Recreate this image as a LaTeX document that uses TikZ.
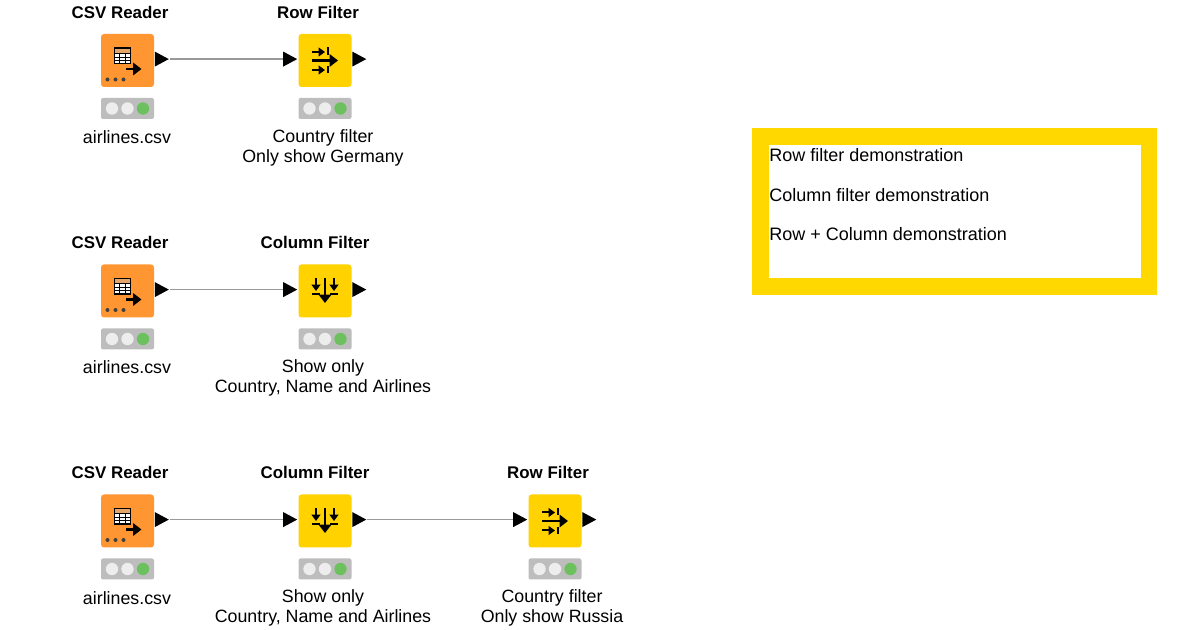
\documentclass[tikz,border=0pt]{standalone}
\usepackage{fontspec}
\setmainfont{Liberation Sans}
\usetikzlibrary{shapes.geometric, positioning, arrows.meta}
\definecolor{readerorange}{HTML}{FF9632}
\definecolor{filteryellow}{HTML}{FFD200}
\definecolor{noteyellow}{HTML}{FFD800}
\definecolor{lightgrey}{HTML}{BDBDBD}
\definecolor{lampwhite}{HTML}{EDEDED}
\definecolor{lampgreen}{HTML}{6CC05E}
\definecolor{wiregrey}{HTML}{999999}

% Macros: one box with its status lamps and output port
\newcommand{\knimenode}[4]{
  \node (#1) [#4] at (#2,#3) {};
  \node (#1status) [statusbar] at (#2,#3+48) {};
  \node [lamp, fill=lampwhite] at (#2-15.5,#3+48) {};
  \node [lamp, fill=lampwhite] at (#2,#3+48) {};
  \node [lamp, fill=lampgreen] at (#2+15.5,#3+48) {};
  \node (#1out) [port, right=0pt of #1] {};
}
\newcommand{\rowicon}[2]{
  \draw[icon] (#1-13,#2) -- (#1+13,#2);
  \draw[iconthin] (#1-13,#2-8.5) -- (#1,#2-8.5);
  \draw[iconthin] (#1-13,#2+9.5) -- (#1,#2+9.5);
  \draw[line width=1pt] (#1+3,#2-13) -- (#1+3,#2-5.5);
  \draw[line width=1pt] (#1+3,#2+6) -- (#1+3,#2+13);
}
\newcommand{\columnicon}[2]{
  \draw[icon] (#1,#2-13) -- (#1,#2+12);
  \draw[iconthin] (#1-9,#2-13) -- (#1-9,#2);
  \draw[iconthin] (#1+9,#2-13) -- (#1+9,#2);
  \draw[line width=1pt] (#1-13,#2+3) -- (#1-5,#2+3);
  \draw[line width=1pt] (#1+5,#2+3) -- (#1+13,#2+3);
}
\newcommand{\readericon}[2]{
  \draw[fill=white, line width=0.7pt] (#1-13,#2-12.5) rectangle (#1+3,#2+3);
  \fill[readerorange!60!lightgrey] (#1-12.3,#2-11.8) rectangle (#1+2.3,#2-7);
  \draw[line width=0.5pt] (#1-13,#2-7) -- (#1+3,#2-7);
  \draw[line width=0.5pt] (#1-13,#2-3.3) -- (#1+3,#2-3.3);
  \draw[line width=0.5pt] (#1-13,#2-0.1) -- (#1+3,#2-0.1);
  \draw[line width=0.5pt] (#1-7.7,#2-7) -- (#1-7.7,#2+3);
  \draw[line width=0.5pt] (#1-2.3,#2-7) -- (#1-2.3,#2+3);
  \draw[icon] (#1-1.5,#2+8.5) -- (#1+14,#2+8.5);
  \foreach \i in {-20,-12,-4} \fill[black!75] (#1+\i,#2+19) circle (2);
}

\tikzset{
  boxbase/.style = {rectangle, rounded corners=1.5pt, minimum size=26.5pt, inner sep=0pt},
  reader/.style = {boxbase, fill=readerorange},
  filter/.style = {boxbase, fill=filteryellow},
  statusbar/.style = {rectangle, rounded corners=1pt, minimum width=26.5pt, minimum height=10.5pt, inner sep=0pt, fill=lightgrey},
  lamp/.style = {circle, minimum size=6.2pt, inner sep=0pt},
  port/.style = {isosceles triangle, isosceles triangle apex angle=53, isosceles triangle stretches, minimum width=7.5pt, minimum height=7pt, inner sep=0pt, fill=black, yshift=0.7pt},
  wire/.style = {draw=wiregrey, line width=0.7pt},
  title/.style = {font=\fontsize{8.45}{10}\selectfont\bfseries, align=center},
  caption/.style = {font=\fontsize{8.9}{10}\selectfont, align=center},
  notetext/.style = {font=\fontsize{9}{10}\selectfont, anchor=west},
  icon/.style = {line width=1.3pt, -{Triangle[length=4.2pt,width=6.2pt]}},
  iconthin/.style = {line width=1pt, -{Triangle[length=3.2pt,width=4.4pt]}},
}

\begin{document}
\begin{tikzpicture}[x=0.5pt, y=-0.5pt]
\useasboundingbox (0,0) rectangle (1200,630);

% First row
\knimenode{readerA}{127.5}{60.5}{reader}
\knimenode{rowA}{325}{60.5}{filter}
\node (rowAin) [port, left=0pt of rowA] {};
\readericon{127.5}{60.5}
\rowicon{325}{60.5}
\draw[wire] (readerAout.east) -- (rowAin.west);
\node (readerAtitle) [title] at (120,12) {CSV Reader};
\node (rowAtitle) [title] at (318,12) {Row Filter};
\node (readerAcaption) [caption] at (127,137) {airlines.csv};
\node (rowAcaption) [caption] at (323,148) {Country filter\\Only show Germany};

% Second row
\knimenode{readerB}{127.5}{291}{reader}
\knimenode{columnB}{325}{291}{filter}
\node (columnBin) [port, left=0pt of columnB] {};
\readericon{127.5}{291}
\columnicon{325}{291}
\draw[wire] (readerBout.east) -- (columnBin.west);
\node (readerBtitle) [title] at (120,242) {CSV Reader};
\node (columnBtitle) [title] at (315,242) {Column Filter};
\node (readerBcaption) [caption] at (127,367) {airlines.csv};
\node (columnBcaption) [caption] at (323,378) {Show only\\Country, Name and Airlines};

% Third row
\knimenode{readerC}{127.5}{521}{reader}
\knimenode{columnC}{325}{521}{filter}
\knimenode{rowC}{555}{521}{filter}
\node (columnCin) [port, left=0pt of columnC] {};
\node (rowCin) [port, left=0pt of rowC] {};
\readericon{127.5}{521}
\columnicon{325}{521}
\rowicon{555}{521}
\draw[wire] (readerCout.east) -- (columnCin.west);
\draw[wire] (columnCout.east) -- (rowCin.west);
\node (readerCtitle) [title] at (120,472) {CSV Reader};
\node (columnCtitle) [title] at (315,472) {Column Filter};
\node (rowCtitle) [title] at (548,472) {Row Filter};
\node (readerCcaption) [caption] at (127,598) {airlines.csv};
\node (columnCcaption) [caption] at (323,608) {Show only\\Country, Name and Airlines};
\node (rowCcaption) [caption] at (552,608) {Country filter\\Only show Russia};

% Annotation
\draw[noteyellow, line width=8.3pt] (760.5,136.5) rectangle (1149,286.5);
\node (noteA) [notetext, inner sep=0pt] at (769,155) {Row filter demonstration};
\node (noteB) [notetext, inner sep=0pt] at (769,195) {Column filter demonstration};
\node (noteC) [notetext, inner sep=0pt] at (769,234) {Row + Column demonstration};
\end{tikzpicture}
\end{document}
